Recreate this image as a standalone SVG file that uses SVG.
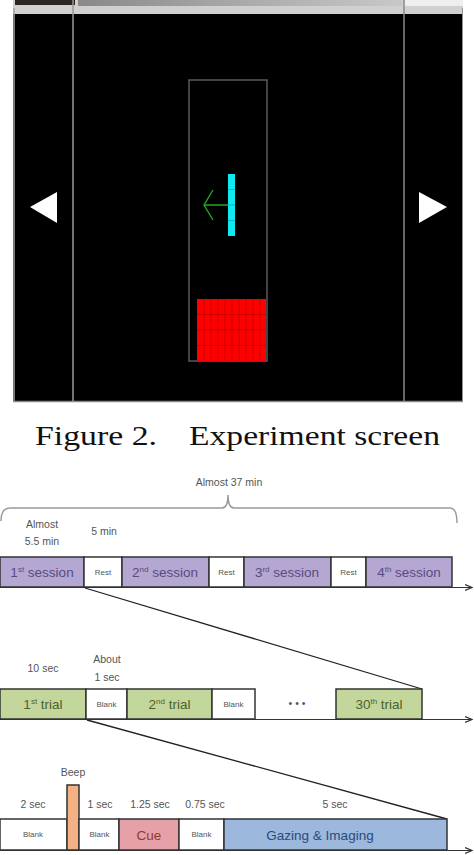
<svg xmlns="http://www.w3.org/2000/svg" width="474" height="855" viewBox="0 0 474 855">
<style>
.lbl{font-family:"Liberation Sans",Arial,sans-serif;font-size:10.5px;fill:#555;text-anchor:middle}
.sm{font-family:"Liberation Sans",Arial,sans-serif;font-size:8px;fill:#555;text-anchor:middle}
.ses{fill:#b4a7d2;stroke:#333;stroke-width:1.5}
.tri{fill:#c3d69b;stroke:#333;stroke-width:1.5}
.wb{fill:#fff;stroke:#333;stroke-width:1.5}
.st{font-family:"Liberation Sans",Arial,sans-serif;font-size:13.5px;fill:#5a4a82;text-anchor:middle}
.tt{font-family:"Liberation Sans",Arial,sans-serif;font-size:13.5px;fill:#4f6228;text-anchor:middle}
.ax{stroke:#333;stroke-width:1.2;fill:none}
.zl{stroke:#222;stroke-width:1.3;fill:none}
.sup{font-size:8px}
.rg{stroke:#c00000;stroke-width:0.8}
</style>
<defs>
<marker id="arr" markerWidth="8" markerHeight="8" refX="7" refY="4" orient="auto" markerUnits="userSpaceOnUse">
<path d="M0,1 L7,4 L0,7" fill="none" stroke="#333" stroke-width="1.2"/>
</marker>
<linearGradient id="tb" x1="0" x2="1" y1="0" y2="0">
<stop offset="0" stop-color="#8a8a8a"/><stop offset="1" stop-color="#c8c8c8"/>
</linearGradient>
</defs>
<rect width="474" height="855" fill="#fff"/>

<g id="screen">
<rect x="13" y="0" width="450" height="14" fill="#d0d0d0"/>
<rect x="15" y="0" width="60" height="5" fill="#2b2622"/>
<rect x="78" y="0" width="324" height="6" fill="url(#tb)"/>
<rect x="404" y="0" width="59" height="6" fill="#efefef"/>
<rect x="13" y="14" width="450" height="388" fill="#000"/>
<line x1="14" y1="8" x2="14" y2="402" stroke="#a0a0a0" stroke-width="1.5"/>
<line x1="13" y1="401.5" x2="463" y2="401.5" stroke="#8a8a8a" stroke-width="1.5"/>
<line x1="462.5" y1="8" x2="462.5" y2="402" stroke="#909090" stroke-width="1"/>
<line x1="73" y1="0" x2="73" y2="401" stroke="#999" stroke-width="1.5"/>
<line x1="404" y1="0" x2="404" y2="401" stroke="#888" stroke-width="1.5"/>
<rect x="189" y="80" width="78" height="281" fill="none" stroke="#5a5a5a" stroke-width="1.5"/>
<polygon points="30,207 57,192 57,223" fill="#fff"/>
<polygon points="447,207 419,192 419,223" fill="#fff"/>
<rect x="228" y="174" width="7" height="62" fill="#10e8f2"/>
<path d="M228,189.5 H235 M228,205 H235 M228,220.5 H235" stroke="#0aa8b0" stroke-width="0.7"/>
<path d="M204,205 H228 M213,190 L204,205 L213,220" fill="none" stroke="#1fa81f" stroke-width="1.4"/>
<rect x="197" y="299" width="69" height="62" fill="#ff0000"/>
<path class="rg" d="M204,299V361M211,299V361M218,299V361M225,299V361M232,299V361M239,299V361M246,299V361M253,299V361M260,299V361M197,314.5H266M197,330H266M197,345.5H266"/>
</g>

<g id="caption">
<text y="445" font-family="'Liberation Serif','Times New Roman',serif" font-size="28" fill="#111"><tspan x="35" textLength="122" lengthAdjust="spacingAndGlyphs">Figure 2.</tspan><tspan x="189" textLength="251" lengthAdjust="spacingAndGlyphs">Experiment screen</tspan></text>
</g>

<g id="total">
<text class="lbl" x="229" y="486">Almost  37 min</text>
<path d="M1,521 Q1,508 10,508 L222,508 Q228,508 228,495 Q228,508 234,508 L450,508 Q457,508 457,523" fill="none" stroke="#999" stroke-width="1.5"/>
<text class="lbl" x="42" y="528">Almost</text>
<text class="lbl" x="42" y="545">5.5 min</text>
<text class="lbl" x="104" y="535">5 min</text>
</g>

<g id="connectors">
<line class="ax" x1="0" y1="587.5" x2="472" y2="587.5" marker-end="url(#arr)"/>
<line class="ax" x1="0" y1="719.5" x2="472" y2="719.5" marker-end="url(#arr)"/>
<line class="ax" x1="0" y1="850.5" x2="472" y2="850.5" marker-end="url(#arr)"/>
<line class="zl" x1="85" y1="588" x2="422" y2="689"/>
<line class="zl" x1="87" y1="720" x2="447" y2="819"/>
</g>

<g id="session1"><rect class="ses" x="0" y="557" width="84" height="30"/><text class="st" x="42" y="577">1<tspan class="sup" dy="-5">st</tspan><tspan dy="5"> session</tspan></text></g>
<g id="rest1"><rect class="wb" x="84" y="557" width="38" height="30"/><text class="sm" x="103" y="575">Rest</text></g>
<g id="session2"><rect class="ses" x="122" y="557" width="87" height="30"/><text class="st" x="165" y="577">2<tspan class="sup" dy="-5">nd</tspan><tspan dy="5"> session</tspan></text></g>
<g id="rest2"><rect class="wb" x="209" y="557" width="35" height="30"/><text class="sm" x="226.5" y="575">Rest</text></g>
<g id="session3"><rect class="ses" x="244" y="557" width="87" height="30"/><text class="st" x="287" y="577">3<tspan class="sup" dy="-5">rd</tspan><tspan dy="5"> session</tspan></text></g>
<g id="rest3"><rect class="wb" x="331" y="557" width="35" height="30"/><text class="sm" x="348.5" y="575">Rest</text></g>
<g id="session4"><rect class="ses" x="366" y="557" width="86" height="30"/><text class="st" x="409" y="577">4<tspan class="sup" dy="-5">th</tspan><tspan dy="5"> session</tspan></text></g>

<g id="trial-labels">
<text class="lbl" x="43" y="672">10 sec</text>
<text class="lbl" x="107" y="663">About</text>
<text class="lbl" x="107" y="681">1 sec</text>
</g>
<g id="trial1"><rect class="tri" x="0" y="689" width="86" height="30"/><text class="tt" x="43" y="709">1<tspan class="sup" dy="-5">st</tspan><tspan dy="5"> trial</tspan></text></g>
<g id="blank1"><rect class="wb" x="86" y="689" width="41" height="30"/><text class="sm" x="106.5" y="707">Blank</text></g>
<g id="trial2"><rect class="tri" x="127" y="689" width="85" height="30"/><text class="tt" x="169.5" y="709">2<tspan class="sup" dy="-5">nd</tspan><tspan dy="5"> trial</tspan></text></g>
<g id="blank2"><rect class="wb" x="212" y="689" width="43" height="30"/><text class="sm" x="233.5" y="707">Blank</text></g>
<g id="dots"><text class="lbl" x="297" y="707" font-size="13">• • •</text></g>
<g id="trial30"><rect class="tri" x="336" y="689" width="86" height="30"/><text class="tt" x="379" y="709">30<tspan class="sup" dy="-5">th</tspan><tspan dy="5"> trial</tspan></text></g>

<g id="step-labels">
<text class="lbl" x="73" y="776">Beep</text>
<text class="lbl" x="33" y="808">2 sec</text>
<text class="lbl" x="100" y="808">1 sec</text>
<text class="lbl" x="150" y="808">1.25 sec</text>
<text class="lbl" x="205" y="808">0.75 sec</text>
<text class="lbl" x="335" y="808">5 sec</text>
</g>
<g id="blankA"><rect class="wb" x="0" y="819" width="67" height="31"/><text class="sm" x="33" y="837">Blank</text></g>
<g id="beep"><rect x="67" y="785" width="12" height="65" fill="#f4b183" stroke="#333" stroke-width="1.5"/></g>
<g id="blankB"><rect class="wb" x="79" y="819" width="40" height="31"/><text class="sm" x="99.5" y="837">Blank</text></g>
<g id="cue"><rect x="119" y="819" width="60" height="31" fill="#e6a1a8" stroke="#333" stroke-width="1.5"/><text x="149" y="840" font-family="'Liberation Sans',Arial,sans-serif" font-size="13.5" fill="#943634" text-anchor="middle">Cue</text></g>
<g id="blankC"><rect class="wb" x="179" y="819" width="45" height="31"/><text class="sm" x="201.5" y="837">Blank</text></g>
<g id="gazing"><rect x="224" y="819" width="223" height="31" fill="#9cb8dd" stroke="#333" stroke-width="1.5"/><text x="320" y="840" font-family="'Liberation Sans',Arial,sans-serif" font-size="13.5" fill="#2a4a7a" text-anchor="middle">Gazing &amp; Imaging</text></g>
</svg>
